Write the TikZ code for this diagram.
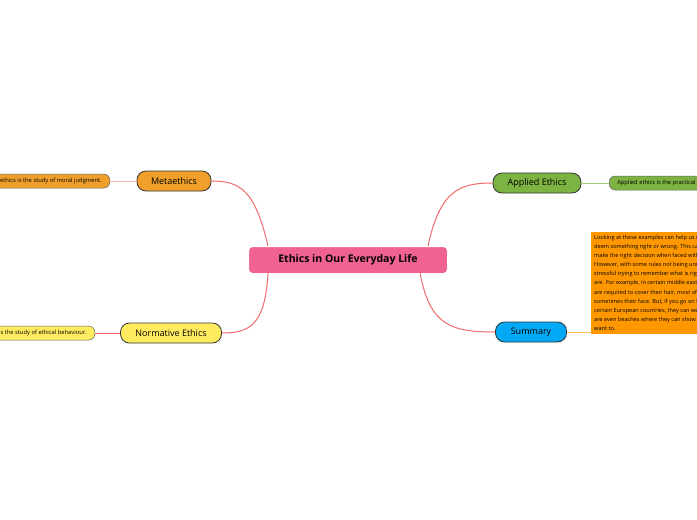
\documentclass[tikz,border=0pt]{standalone}
\usepackage{fontspec}
\setmainfont{Open Sans}
\begin{document}
\begin{tikzpicture}[x=1pt,y=-1pt,
  topic/.style={draw=black!80,line width=0.8pt,rounded corners=9pt,minimum height=20pt,inner xsep=10pt,font=\fontsize{9}{11}\selectfont},
  leaf/.style={draw=black!60,line width=0.5pt,rounded corners=6pt,minimum height=14pt,inner xsep=8pt,font=\fontsize{5.8}{7}\selectfont},
  link/.style={draw=red!60!white,line width=1pt}]
\useasboundingbox (0,0) rectangle (697,520);
\clip (0,0) rectangle (697,520);
\definecolor{cpink}{HTML}{F06292}
\definecolor{corange}{HTML}{F0A02A}
\definecolor{cyellow}{HTML}{FFEB60}
\definecolor{cgreen}{HTML}{7CB342}
\definecolor{cblue}{HTML}{03A9F4}
\definecolor{corange2}{HTML}{FF9800}
\definecolor{clink}{HTML}{F06A6A}
\node[draw=white,line width=1pt,fill=cpink,rounded corners=4pt,minimum width=199pt,minimum height=27pt,font=\bfseries\fontsize{10.5}{12}\selectfont] (c) at (348,260) {Ethics in Our Everyday Life};
\node[topic,fill=corange,minimum width=74pt] (m) at (174,181) {Metaethics};
\node[topic,fill=cyellow,minimum width=101pt] (n) at (171,333) {Normative Ethics};
\node[topic,fill=cgreen,minimum width=88pt] (a) at (537,183) {Applied Ethics};
\node[topic,fill=cblue,minimum width=71pt] (s) at (531,332) {Summary};
\node[leaf,fill=corange,anchor=east] (ml) at (110,181) {Metaethics is the study of moral judgment.};
\node[leaf,fill=cyellow,anchor=east] (nl) at (95,333) {Normative ethics is the study of ethical behaviour.};
\node[leaf,fill=cgreen,anchor=west] (al) at (609,183) {Applied ethics is the practical application of moral considerations.};
\node[fill=corange2,anchor=north west,inner sep=3pt,align=left,font=\fontsize{5.6}{9.1}\selectfont] (sl) at (591,232) {Looking at these examples can help us understand how we\\
deem something right or wrong. This can help us\\
make the right decision when faced with a dilemma.\\
However, with some rules not being universal, it can be\\
stressful trying to remember what is right where you\\
are. For example, in certain middle eastern countries, women\\
are required to cover their hair, most of their body and\\
sometimes their face. But, if you go on holiday to\\
certain European countries, they can wear what they like, there\\
are even beaches where they can show as much as they\\
want to.};
\draw[clink,line width=1pt] (268,246) .. controls (255,190) and (240,181) .. (m.east);
\draw[clink,line width=1pt] (268,273) .. controls (265,325) and (250,333) .. (n.east);
\draw[clink,line width=1pt] (428,246) .. controls (440,190) and (460,183) .. (a.west);
\draw[clink,line width=1pt] (420,273) .. controls (430,325) and (450,332) .. (s.west);
\draw[red!30,line width=1pt] (ml.east) -- (m.west);
\draw[clink,line width=0.7pt] (nl.east) -- (n.west);
\draw[cgreen!70,line width=0.7pt] (a.east) -- (al.west);
\draw[corange2,line width=1pt] (s.east) -- (591,332) -- (697,332);
\end{tikzpicture}
\end{document}
